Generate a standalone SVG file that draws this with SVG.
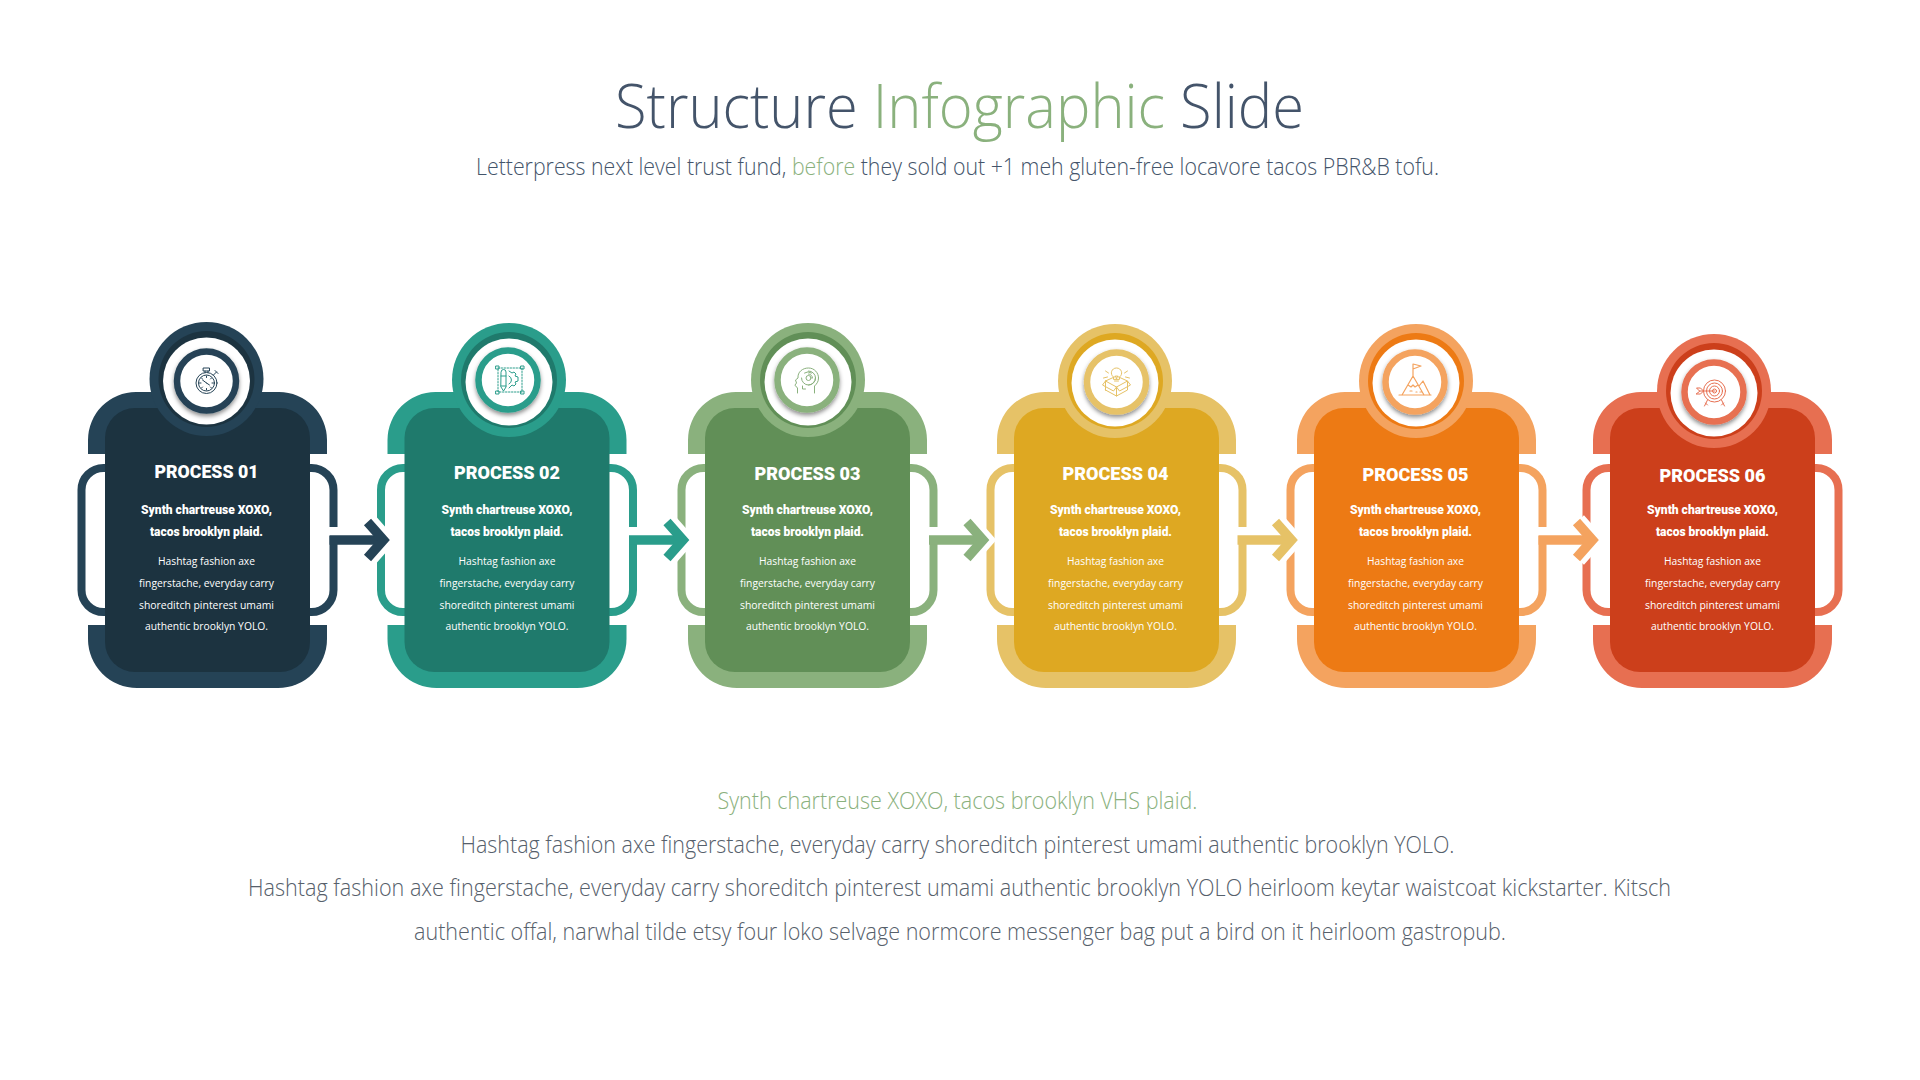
<svg xmlns="http://www.w3.org/2000/svg" width="1920" height="1080" viewBox="0 0 1920 1080">
<style>
.sans{font-family:"Open Sans","Noto Sans",sans-serif;font-weight:300}
.title{font-size:60px;fill:#44546a}
.sub{font-size:23px;fill:#44546a}
.g{fill:#8ab17d}
.foot{font-size:23.500px;fill:#56606b;text-anchor:middle}
.foot.g{fill:#8ab17d}
.ph{font-family:Roboto,sans-serif;font-weight:900;font-size:18px;fill:#fff;text-anchor:middle}
.pb{font-family:Roboto,sans-serif;font-weight:900;font-size:12px;fill:#fff;text-anchor:middle}
.pt{font-family:"Open Sans","Noto Sans",sans-serif;font-weight:400;font-size:11.500px;fill:#fff;text-anchor:middle}
.ic{fill:none;stroke-width:1;stroke-linejoin:round;stroke-linecap:round}
.hd{fill:none;stroke-width:8}
.c1{--o:#254356;--i:#1c3340}
.c2{--o:#2a9d8b;--i:#1f7a6c}
.c3{--o:#8ab17d;--i:#618f57}
.c4{--o:#e6c267;--i:#dea822}
.c5{--o:#f4a35f;--i:#ed7a14}
.c6{--o:#e76f51;--i:#cc3f1b}
.o{fill:var(--o)}
.i{fill:var(--i)}
.hd{stroke:var(--o)}
.ring{fill:#fff;stroke:var(--o);stroke-width:6.500}
.ic{stroke:var(--o)}
.halo{fill:none;stroke:#fff;stroke-width:20}
.arr{fill:none;stroke:var(--o);stroke-width:9.500}
</style>
<defs>
<filter id="sh" x="-30%" y="-30%" width="160%" height="160%"><feDropShadow dx="0" dy="2.500" stdDeviation="2" flood-color="#000" flood-opacity=".45"/></filter>
<path id="bodyTop" d="M-119.500 454V440A48 48 0 0 1-71.500 392H71.500A48 48 0 0 1 119.500 440V454Z"/>
<path id="bodyBot" d="M-119.500 625V639A49 49 0 0 0-70.500 688H70.500A49 49 0 0 0 119.500 639V625Z"/>
<rect id="inner" x="-102.500" y="408" width="205" height="264" rx="30"/>
<path id="hLeft" d="M-100 468H-104A22 22 0 0 0-126 490V590A22 22 0 0 0-104 612H-100"/>
<path id="hRightGap" d="M100 468H104A22 22 0 0 1 126 490V527M126 536V590A22 22 0 0 1 104 612H100"/>
<path id="hRight" d="M100 468H104A22 22 0 0 1 126 490V590A22 22 0 0 1 104 612H100"/>
<path id="chev" d="M160 522 176 540 160 558"/>
<path id="shaft" d="M122 540H174"/>
</defs>
<rect width="1920" height="1080" fill="#fff"/>

<g id="header">
<text class="sans title" x="615" y="128" textLength="689" lengthAdjust="spacingAndGlyphs">Structure <tspan class="g">Infographic</tspan> Slide</text>
<text class="sans sub" x="476" y="175" textLength="963" lengthAdjust="spacingAndGlyphs">Letterpress next level trust fund, <tspan class="g">before</tspan> they sold out +1 meh gluten-free locavore tacos PBR&amp;B tofu.</text>
</g>

<g id="process-01" class="c1" transform="translate(207.500 0)">
<use href="#hLeft" class="hd"/><use href="#hRightGap" class="hd"/>
<use href="#bodyTop" class="o"/><use href="#bodyBot" class="o"/><use href="#inner" class="i"/>
<circle class="o" cx="-1" cy="379" r="57"/><circle class="i" cx="-1" cy="379" r="48"/><circle fill="#fff" cx="-1" cy="381" r="43.500"/>
<circle class="ring" cx="-1" cy="381" r="29.500" filter="url(#sh)"/>
<g class="ic" transform="translate(-1 383)"><circle r="10.500"/><circle r="8"/><rect x="-3" y="-15" width="6" height="3"/><path d="M-1.500-12V-10.500M1.500-12V-10.500M7-8 10-11M8.500-12.500 11.500-9.500M0 0 3 2M0 0-4-3M0-7V-5.500M0 5.500V7M-7 0H-5.500M5.500 0H7M-5-5-4-4M5-5 4-4M-5 5-4 4M5 5 4 4"/></g>
<text class="ph" x="-1" y="478" textLength="104" lengthAdjust="spacingAndGlyphs">PROCESS 01</text>
<text class="pb" x="-1" y="514" textLength="131" lengthAdjust="spacingAndGlyphs">Synth chartreuse XOXO,</text>
<text class="pb" x="-1" y="536" textLength="113" lengthAdjust="spacingAndGlyphs">tacos brooklyn plaid.</text>
<text class="pt" x="-1" y="565" textLength="97" lengthAdjust="spacingAndGlyphs">Hashtag fashion axe</text>
<text class="pt" x="-1" y="587" textLength="135" lengthAdjust="spacingAndGlyphs">fingerstache, everyday carry</text>
<text class="pt" x="-1" y="609" textLength="135" lengthAdjust="spacingAndGlyphs">shoreditch pinterest umami</text>
<text class="pt" x="-1" y="630" textLength="123" lengthAdjust="spacingAndGlyphs">authentic brooklyn YOLO.</text>
</g>

<g id="process-02" class="c2" transform="translate(507 0)">
<use href="#hLeft" class="hd"/><use href="#hRightGap" class="hd"/>
<use href="#bodyTop" class="o"/><use href="#bodyBot" class="o"/><use href="#inner" class="i"/>
<circle class="o" cx="2" cy="380" r="57"/><circle class="i" cx="2" cy="380" r="48"/><circle fill="#fff" cx="2" cy="382" r="43.500"/>
<circle class="ring" cx="1" cy="380" r="29.500" filter="url(#sh)"/>
<g class="ic" transform="translate(3 380)"><rect x="-12" y="-12" width="24" height="24" stroke-dasharray="1.500 1.500"/><rect x="-14" y="-14" width="3" height="3"/><rect x="11" y="-14" width="3" height="3"/><rect x="-14" y="11" width="3" height="3"/><rect x="11" y="11" width="3" height="3"/><path d="M-9-8A2.500 2.500 0 0 1-4-8V7L-6.500 11-9 7ZM-9-4H-4M-9 6H-4M-1-9 2-7 4-8 6-6 5-4 8-3V1L5 2 6 4 4 6 2 5-1 8M-1-4A4.500 4.500 0 0 1-1 4"/></g>
<text class="ph" x="0" y="479" textLength="106" lengthAdjust="spacingAndGlyphs">PROCESS 02</text>
<text class="pb" x="0" y="514" textLength="131" lengthAdjust="spacingAndGlyphs">Synth chartreuse XOXO,</text>
<text class="pb" x="0" y="536" textLength="113" lengthAdjust="spacingAndGlyphs">tacos brooklyn plaid.</text>
<text class="pt" x="0" y="565" textLength="97" lengthAdjust="spacingAndGlyphs">Hashtag fashion axe</text>
<text class="pt" x="0" y="587" textLength="135" lengthAdjust="spacingAndGlyphs">fingerstache, everyday carry</text>
<text class="pt" x="0" y="609" textLength="135" lengthAdjust="spacingAndGlyphs">shoreditch pinterest umami</text>
<text class="pt" x="0" y="630" textLength="123" lengthAdjust="spacingAndGlyphs">authentic brooklyn YOLO.</text>
</g>

<g id="process-03" class="c3" transform="translate(807.500 0)">
<use href="#hLeft" class="hd"/><use href="#hRightGap" class="hd"/>
<use href="#bodyTop" class="o"/><use href="#bodyBot" class="o"/><use href="#inner" class="i"/>
<circle class="o" cx="0.500" cy="380" r="57"/><circle class="i" cx="0.500" cy="380" r="48"/><circle fill="#fff" cx="0.500" cy="382" r="43.500"/>
<circle class="ring" cx="-0.500" cy="380" r="29.500" filter="url(#sh)"/>
<g class="ic" transform="translate(0 381)"><path d="M-10 12V7C-10 6-13 5-12.500 4L-11 2-12-1-9.500-3C-10-9-5-13 1-13 7-13 11-8 11-3 11 1 9 3 7 5V12"/><path d="M-2 8H-5V5"/><circle cx="1" cy="-3" r="2.500"/><path d="M1-10A7 7 0 1 1-6-3M-3-8A6 6 0 0 1 4-8M8-3A7 7 0 0 1 1 4M5-3A4 4 0 0 0 1-7"/></g>
<text class="ph" x="0" y="480" textLength="106" lengthAdjust="spacingAndGlyphs">PROCESS 03</text>
<text class="pb" x="0" y="514" textLength="131" lengthAdjust="spacingAndGlyphs">Synth chartreuse XOXO,</text>
<text class="pb" x="0" y="536" textLength="113" lengthAdjust="spacingAndGlyphs">tacos brooklyn plaid.</text>
<text class="pt" x="0" y="565" textLength="97" lengthAdjust="spacingAndGlyphs">Hashtag fashion axe</text>
<text class="pt" x="0" y="587" textLength="135" lengthAdjust="spacingAndGlyphs">fingerstache, everyday carry</text>
<text class="pt" x="0" y="609" textLength="135" lengthAdjust="spacingAndGlyphs">shoreditch pinterest umami</text>
<text class="pt" x="0" y="630" textLength="123" lengthAdjust="spacingAndGlyphs">authentic brooklyn YOLO.</text>
</g>

<g id="process-04" class="c4" transform="translate(1116.500 0)">
<use href="#hLeft" class="hd"/><use href="#hRightGap" class="hd"/>
<use href="#bodyTop" class="o"/><use href="#bodyBot" class="o"/><use href="#inner" class="i"/>
<circle class="o" cx="-1.500" cy="381" r="57"/><circle class="i" cx="-1.500" cy="381" r="48"/><circle fill="#fff" cx="-1.500" cy="383" r="43.500"/>
<circle class="ring" cx="0" cy="382" r="29.500" filter="url(#sh)"/>
<g class="ic" transform="translate(0 382)"><path d="M-3-3V-5C-7-8-5-14 0-14 5-14 7-8 3-5V-3ZM-2-1H2M-1-6 0-3 1-6M-11-11-8-9M11-11 8-9M-13-4-9-5M13-4 9-5M-11 8V-1L0 5 11-1V8L0 14-11 8ZM0 5V14M-11-1-14 3-3 9 0 5 3 9 14 3 11-1 0-6-11-1Z"/></g>
<text class="ph" x="-1" y="480" textLength="106" lengthAdjust="spacingAndGlyphs">PROCESS 04</text>
<text class="pb" x="-1" y="514" textLength="131" lengthAdjust="spacingAndGlyphs">Synth chartreuse XOXO,</text>
<text class="pb" x="-1" y="536" textLength="113" lengthAdjust="spacingAndGlyphs">tacos brooklyn plaid.</text>
<text class="pt" x="-1" y="565" textLength="97" lengthAdjust="spacingAndGlyphs">Hashtag fashion axe</text>
<text class="pt" x="-1" y="587" textLength="135" lengthAdjust="spacingAndGlyphs">fingerstache, everyday carry</text>
<text class="pt" x="-1" y="609" textLength="135" lengthAdjust="spacingAndGlyphs">shoreditch pinterest umami</text>
<text class="pt" x="-1" y="630" textLength="123" lengthAdjust="spacingAndGlyphs">authentic brooklyn YOLO.</text>
</g>

<g id="process-05" class="c5" transform="translate(1416.500 0)">
<use href="#hLeft" class="hd"/><use href="#hRightGap" class="hd"/>
<use href="#bodyTop" class="o"/><use href="#bodyBot" class="o"/><use href="#inner" class="i"/>
<circle class="o" cx="-0.500" cy="381" r="57"/><circle class="i" cx="-0.500" cy="381" r="48"/><circle fill="#fff" cx="-0.500" cy="383" r="43.500"/>
<circle class="ring" cx="-1.500" cy="382" r="29.500" filter="url(#sh)"/>
<g class="ic" transform="translate(-1.500 382)"><path d="M-16 13H16M-13 13-2-6 9 13M-2-6V-18L6-16-2-13M-7 3-4 5-2 3 0 5 3 3M4 4 8-1 15 13M1 10H2M5 10H7M-5 9H-3" stroke-width="1.200"/></g>
<text class="ph" x="-1" y="481" textLength="106" lengthAdjust="spacingAndGlyphs">PROCESS 05</text>
<text class="pb" x="-1" y="514" textLength="131" lengthAdjust="spacingAndGlyphs">Synth chartreuse XOXO,</text>
<text class="pb" x="-1" y="536" textLength="113" lengthAdjust="spacingAndGlyphs">tacos brooklyn plaid.</text>
<text class="pt" x="-1" y="565" textLength="97" lengthAdjust="spacingAndGlyphs">Hashtag fashion axe</text>
<text class="pt" x="-1" y="587" textLength="135" lengthAdjust="spacingAndGlyphs">fingerstache, everyday carry</text>
<text class="pt" x="-1" y="609" textLength="135" lengthAdjust="spacingAndGlyphs">shoreditch pinterest umami</text>
<text class="pt" x="-1" y="630" textLength="123" lengthAdjust="spacingAndGlyphs">authentic brooklyn YOLO.</text>
</g>

<g id="process-06" class="c6" transform="translate(1712.500 0)">
<use href="#hLeft" class="hd"/><use href="#hRight" class="hd"/>
<use href="#bodyTop" class="o"/><use href="#bodyBot" class="o"/><use href="#inner" class="i"/>
<circle class="o" cx="1.500" cy="391" r="57"/><circle class="i" cx="1.500" cy="391" r="48"/><circle fill="#fff" cx="1.500" cy="393" r="43.500"/>
<circle class="ring" cx="1.500" cy="392" r="29.500" filter="url(#sh)"/>
<g class="ic" transform="translate(2 391)"><circle r="11"/><circle r="8"/><circle r="5"/><circle r="2"/><path d="M0 0-15 0M-15 0-18-3H-14L-11 0-14 3H-18ZM-7 9-10 15M7 9 10 15M-9 12-7 14M9 12 7 14"/></g>
<text class="ph" x="0" y="482" textLength="106" lengthAdjust="spacingAndGlyphs">PROCESS 06</text>
<text class="pb" x="0" y="514" textLength="131" lengthAdjust="spacingAndGlyphs">Synth chartreuse XOXO,</text>
<text class="pb" x="0" y="536" textLength="113" lengthAdjust="spacingAndGlyphs">tacos brooklyn plaid.</text>
<text class="pt" x="0" y="565" textLength="97" lengthAdjust="spacingAndGlyphs">Hashtag fashion axe</text>
<text class="pt" x="0" y="587" textLength="135" lengthAdjust="spacingAndGlyphs">fingerstache, everyday carry</text>
<text class="pt" x="0" y="609" textLength="135" lengthAdjust="spacingAndGlyphs">shoreditch pinterest umami</text>
<text class="pt" x="0" y="630" textLength="123" lengthAdjust="spacingAndGlyphs">authentic brooklyn YOLO.</text>
</g>

<g id="connectors">
<g class="c1" transform="translate(207.500 0)"><use href="#chev" class="halo"/><use href="#shaft" class="arr"/><use href="#chev" class="arr"/></g>
<g class="c2" transform="translate(507 0)"><use href="#chev" class="halo"/><use href="#shaft" class="arr"/><use href="#chev" class="arr"/></g>
<g class="c3" transform="translate(807 0)"><use href="#chev" class="halo"/><use href="#shaft" class="arr"/><use href="#chev" class="arr"/></g>
<g class="c4" transform="translate(1115.500 0)"><use href="#chev" class="halo"/><use href="#shaft" class="arr"/><use href="#chev" class="arr"/></g>
<g class="c5" transform="translate(1416.500 0)"><use href="#chev" class="halo"/><use href="#shaft" class="arr"/><use href="#chev" class="arr"/></g>
</g>

<g id="footer">
<text class="sans foot g" x="957.500" y="809" textLength="480" lengthAdjust="spacingAndGlyphs">Synth chartreuse XOXO, tacos brooklyn VHS plaid.</text>
<text class="sans foot" x="957.500" y="853" textLength="994" lengthAdjust="spacingAndGlyphs">Hashtag fashion axe fingerstache, everyday carry shoreditch pinterest umami authentic brooklyn YOLO.</text>
<text class="sans foot" x="959.500" y="896" textLength="1423" lengthAdjust="spacingAndGlyphs">Hashtag fashion axe fingerstache, everyday carry shoreditch pinterest umami authentic brooklyn YOLO heirloom keytar waistcoat kickstarter. Kitsch</text>
<text class="sans foot" x="960" y="940" textLength="1092" lengthAdjust="spacingAndGlyphs">authentic offal, narwhal tilde etsy four loko selvage normcore messenger bag put a bird on it heirloom gastropub.</text>
</g>
</svg>
